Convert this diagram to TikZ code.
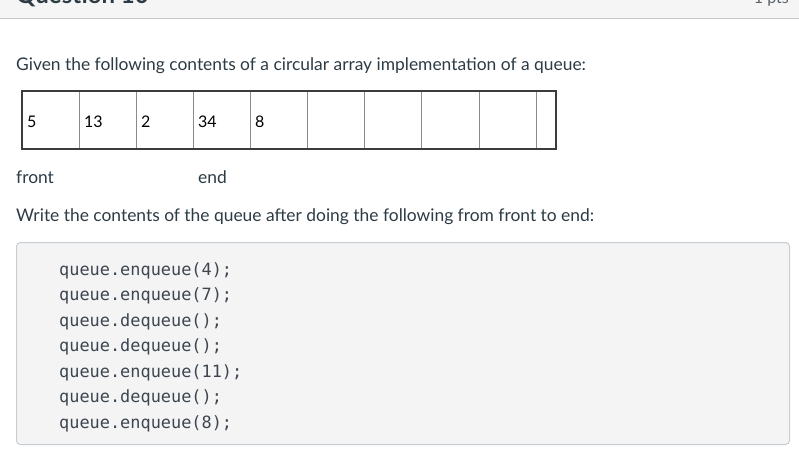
\documentclass[tikz,border=0pt]{standalone}
\usepackage{fontspec}
\setmainfont{Lato}
\newfontfamily\codefont{DejaVu Sans Mono}
\definecolor{hdrbg}{HTML}{F5F5F5}
\definecolor{hdrline}{HTML}{C7C7C7}
\definecolor{txt}{HTML}{2D3B45}
\definecolor{outer}{HTML}{3C3C3C}
\definecolor{inner}{HTML}{8A8A8A}
\definecolor{codebg}{HTML}{F4F4F5}
\definecolor{codeline}{HTML}{C7CDD1}
\definecolor{codetxt}{HTML}{3D4650}
\tikzset{
  lbl/.style={anchor=base west, inner sep=0pt, font=\fontsize{17.4}{20}\selectfont, text=txt},
  cellnum/.style={anchor=base west, inner sep=0pt, font=\fontsize{16}{19}\selectfont, text=black},
  codeln/.style={anchor=base west, inner sep=0pt, font=\codefont\fontsize{16.9}{20}\selectfont, text=codetxt},
  divider/.style={draw=inner, line width=1pt},
}
\begin{document}
\begin{tikzpicture}[x=1pt,y=-1pt]
\useasboundingbox (0,0) rectangle (799,455);
\fill[white] (0,0) rectangle (799,455);
% header band
\begin{scope}
\clip (0,0) rectangle (799,18);
\fill[hdrbg] (0,0) rectangle (799,18);
\node[anchor=base west, inner sep=0pt, font=\bfseries\fontsize{24}{28}\selectfont, text=txt] (qtitle) at (16,3) {Question 10};
\node[anchor=base east, inner sep=0pt, font=\fontsize{16}{19}\selectfont, text=txt!80] (pts) at (789,3) {1 pts};
\end{scope}
\draw[hdrline, line width=1pt] (0,18.5) -- (799,18.5);
% intro text
\node[lbl] (intro) at (16,70) {Given the following contents of a circular array implementation of a queue:};
% array
\foreach \x in {79,136,193,250,307,364,421,479,536}{
  \draw[divider] (\x,91) -- (\x,149);
}
\draw[outer, line width=1.6pt] (22,91) rectangle (556,149);
\node[cellnum] (c1) at (27,127) {5};
\node[cellnum] (c2) at (84,127) {13};
\node[cellnum] (c3) at (141,127) {2};
\node[cellnum] (c4) at (198,127) {34};
\node[cellnum] (c5) at (255,127) {8};
% labels
\node[lbl] (front) at (16,183) {front};
\node[lbl] (endl) at (198,183) {end};
\node[lbl] (write) at (16,221) {Write the contents of the queue after doing the following from front to end:};
% code box
\draw[codeline, fill=codebg, line width=1pt, rounded corners=4pt] (16.5,242.5) rectangle (789.5,444.5);
\node[codeln] (l1) at (59,275) {queue.enqueue(4);};
\node[codeln] (l2) at (59,300.5) {queue.enqueue(7);};
\node[codeln] (l3) at (59,326) {queue.dequeue();};
\node[codeln] (l4) at (59,351.5) {queue.dequeue();};
\node[codeln] (l5) at (59,377) {queue.enqueue(11);};
\node[codeln] (l6) at (59,402.5) {queue.dequeue();};
\node[codeln] (l7) at (59,428) {queue.enqueue(8);};
\end{tikzpicture}
\end{document}
